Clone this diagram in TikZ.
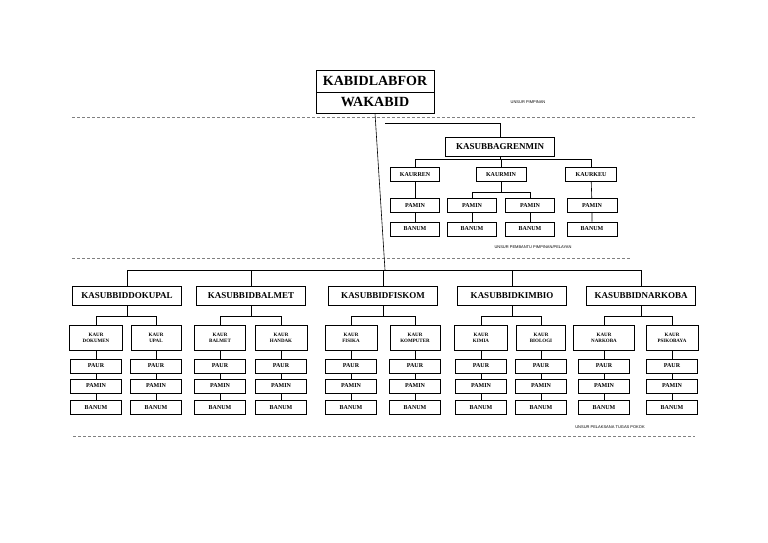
\documentclass[tikz,border=0pt]{standalone}
\usepackage{fontspec}
\setmainfont{Liberation Serif}
\setsansfont{Liberation Sans}
\usetikzlibrary{positioning,calc}
\tikzset{box/.style={draw,thick,fill=white,font=\bfseries,align=center,inner sep=1pt},
	kabox/.style={box,minimum width=#1,minimum height=19pt,font=\bfseries\fontsize{9}{10}\selectfont},
	urbox/.style={box,minimum width=#1,minimum height=14pt,font=\bfseries\fontsize{6}{7}\selectfont},
	kaurbox/.style={box,minimum width=#1,minimum height=25pt,font=\bfseries\fontsize{5}{6}\selectfont},
	note/.style={font=\sffamily\fontsize{4}{5}\selectfont},
	sep/.style={densely dashed,gray,thin},
	link/.style={semithick}}
\begin{document}
\begin{tikzpicture}[x=1pt,y=-1pt]
\useasboundingbox[fill=white] (0,0) rectangle (768,543);
% pimpinan
\node[draw,thick,minimum width=118pt,minimum height=43pt] (kabid) at (375,91.5) {};
\draw[thick] (316,92) -- (434,92);
\node[font=\bfseries\fontsize{14}{15}\selectfont] at (375,81) {KABIDLABFOR};
\node[font=\bfseries\fontsize{14}{15}\selectfont] at (375,102) {WAKABID};
\node[note] at (528,102) {UNSUR PIMPINAN};
\draw[sep] (72,117) -- (695,117);
% pembantu pimpinan
\node[kabox=109pt] (renmin) at (500,146.5) {KASUBBAGRENMIN};
\node[urbox=49pt] (ren) at (415,174.5) {KAURREN};
\node[urbox=50pt] (min) at (501,174.5) {KAURMIN};
\node[urbox=51pt] (keu) at (591,174.5) {KAURKEU};
\node[urbox=49pt] (pren) at (415,205.5) {PAMIN};
\node[urbox=49pt] (pmin1) at (472,205.5) {PAMIN};
\node[urbox=49pt] (pmin2) at (530,205.5) {PAMIN};
\node[urbox=50pt] (pkeu) at (592,205.5) {PAMIN};
\node[urbox=49pt] (bren) at (415,229) {BANUM};
\node[urbox=49pt] (bmin1) at (472,229) {BANUM};
\node[urbox=49pt] (bmin2) at (530,229) {BANUM};
\node[urbox=50pt] (bkeu) at (592,229) {BANUM};
\draw[link] (385,123) -| (renmin.north);
\foreach \c in {ren,min,keu}
	\draw[link] (renmin.south) -- ++(0,3) -| (\c.north);
\foreach \c in {pmin1,pmin2}
	\draw[link] (min.south) -- ++(0,10) -| (\c.north);
\draw[link] (ren) -- (pren) -- (bren);
\draw[link] (keu) -- (pkeu) -- (bkeu);
\draw[link] (pmin1) -- (bmin1);
\draw[link] (pmin2) -- (bmin2);
\node[note] at (533,247) {UNSUR PEMBANTU PIMPINAN/PELAYAN};
\draw[sep] (72,258) -- (630,258);
% pelaksana tugas pokok
\coordinate (bus) at (385,270);
\draw[link] (kabid.south) -- (bus);
\foreach \n/\x/\t in {dok/127/KASUBBIDDOKUPAL,bal/251/KASUBBIDBALMET,fis/383/KASUBBIDFISKOM,kim/512/KASUBBIDKIMBIO,nar/641/KASUBBIDNARKOBA}{
	\node[kabox=109pt] (\n) at (\x,295.5) {\t};
	\draw[link] (bus) -| (\n.north);
}
\foreach \p/\n/\x/\w/\t in {dok/dokumen/96/53/DOKUMEN,dok/upal/156/50/UPAL,bal/balmet/220/51/BALMET,bal/handak/281/52/HANDAK,
	fis/fisika/351/52/FISIKA,fis/komputer/415/50/KOMPUTER,kim/kimia/481/53/KIMIA,kim/biologi/541/49/BIOLOGI,
	nar/narkoba/604/61/NARKOBA,nar/psikobaya/672/52/PSIKOBAYA}{
	\node[kaurbox=\w pt] (\n) at (\x,337.5) {KAUR\\\t};
	\node[urbox=51pt] (\n-paur) at (\x,366) {PAUR};
	\node[urbox=51pt] (\n-pamin) at (\x,386) {PAMIN};
	\node[urbox=51pt] (\n-banum) at (\x,407.5) {BANUM};
	\draw[link] (\p.south) -- ++(0,11) -| (\n.north);
	\draw[link] (\n) -- (\n-paur) -- (\n-pamin) -- (\n-banum);
}
\node[note] at (610,427) {UNSUR PELAKSANA TUGAS POKOK};
\draw[sep] (73,436) -- (695,436);
\end{tikzpicture}
\end{document}
